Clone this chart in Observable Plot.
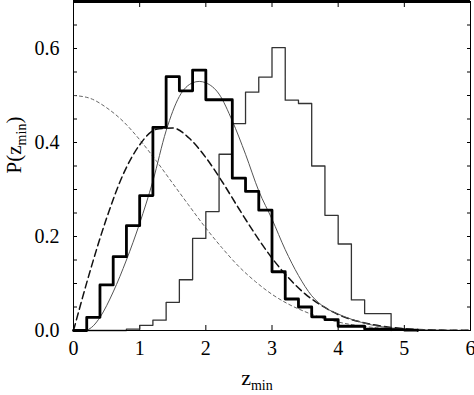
<!DOCTYPE html>
<html><head><meta charset="utf-8">
<script src="https://cdn.jsdelivr.net/npm/d3@7"></script>
<script src="https://cdn.jsdelivr.net/npm/@observablehq/plot@0.6"></script>
<style>body{margin:0;background:#fff} svg{display:block}</style>
</head><body><div id="chart"></div>
<script>
// Histogram (thick): left bin edges and heights (step-after)
const thickEdges = [0,0.2,0.4,0.6,0.8,1.0,1.2,1.4,1.6,1.8,2.0,2.2,2.4,2.6,2.8,3.0,3.2,3.4,3.6,3.8,4.0,4.2,4.4,4.6,4.8,5.0,5.2];
const thickHeights = [0,0.028,0.097,0.157,0.223,0.287,0.432,0.540,0.510,0.554,0.491,0.491,0.324,0.296,0.256,0.125,0.067,0.050,0.029,0.023,0.009,0.009,0.003,0.003,0.002,0.001,0];
// Histogram (thin)
const thinEdges = [0,0.8,1.0,1.2,1.4,1.6,1.8,2.0,2.2,2.4,2.6,2.8,3.0,3.2,3.4,3.6,3.8,4.0,4.2,4.4,4.6,4.8];
const thinHeights = [0,0.003,0.011,0.022,0.060,0.108,0.196,0.253,0.375,0.440,0.507,0.539,0.602,0.490,0.483,0.350,0.245,0.184,0.065,0.036,0.036,0];
// Thin solid curve
const solidZ = [0.2,0.3,0.4,0.6,0.8,1.0,1.2,1.4,1.6,1.8,1.9,2.0,2.2,2.4,2.6,2.8,3.0,3.2,3.4,3.6,3.8,4.0,4.2,4.5,5.0,5.5,6.0];
const solidP = [0,0.010,0.028,0.082,0.150,0.228,0.318,0.425,0.498,0.527,0.530,0.527,0.503,0.446,0.375,0.297,0.237,0.172,0.117,0.074,0.049,0.035,0.024,0.012,0.003,0.0005,0];
// Long-dashed curve
const longZ = [0,0.25,0.5,0.75,1.0,1.25,1.5,1.75,2.0,2.25,2.5,2.75,3.0,3.25,3.5,3.75,4.0,4.5,5.0,5.5,6.0];
const longP = [0,0.126,0.239,0.332,0.395,0.428,0.431,0.409,0.368,0.316,0.259,0.204,0.154,0.112,0.078,0.053,0.034,0.013,0.004,0.001,0.0003];
// Short-dashed curve
const shortZ = [0,0.25,0.5,0.75,1.0,1.25,1.5,1.75,2.0,2.25,2.5,2.75,3.0,3.25,3.5,3.75,4.0,4.5,5.0,5.5,6.0];
const shortP = [0.500,0.494,0.474,0.445,0.406,0.361,0.313,0.265,0.218,0.175,0.136,0.104,0.077,0.056,0.040,0.027,0.018,0.007,0.002,0.0009,0.0003];
// Ticks
const xTicks = [0,1,2,3,4,5,6];
const yLabelTicks = [0,0.2,0.4,0.6];
const yMinorTicks = [0,0.05,0.1,0.15,0.2,0.25,0.3,0.35,0.4,0.45,0.5,0.55,0.6,0.65];

const zip = (a, b) => a.map((v, i) => ({x: v, y: b[i]}));
const thick = zip(thickEdges, thickHeights);
const thin = zip(thinEdges, thinHeights);
const solid = zip(solidZ, solidP);
const longD = zip(longZ, longP);
const shortD = zip(shortZ, shortP);

const serif = "'Liberation Serif', 'Times New Roman', serif";
const plot = Plot.plot({
  width: 474, height: 395,
  marginLeft: 73, marginRight: 4, marginTop: 1, marginBottom: 65,
  x: {domain: [0, 6]},
  y: {domain: [0, 0.7]},
  style: {fontFamily: serif, fontSize: "20px", color: "#000", background: "#fff"},
  marks: [
    Plot.axisX({anchor: "bottom", ticks: xTicks, tickSize: -5, tickPadding: 15, tickFormat: d => String(d), label: null}),
    Plot.axisX({anchor: "top", ticks: xTicks, tickSize: -5, tickFormat: () => "", label: null}),
    Plot.axisY({anchor: "left", ticks: yMinorTicks, tickSize: -4, tickFormat: () => "", label: null}),
    Plot.axisY({anchor: "right", ticks: yMinorTicks, tickSize: -4, tickFormat: () => "", label: null}),
    Plot.axisY({anchor: "left", ticks: yLabelTicks, tickSize: 0, tickPadding: 14, tickFormat: d => d.toFixed(1), label: null}),
    Plot.line(shortD, {x: "x", y: "y", curve: "monotone-x", stroke: "#666", strokeWidth: 1, strokeDasharray: "3,3"}),
    Plot.line(longD, {x: "x", y: "y", curve: "monotone-x", stroke: "#111", strokeWidth: 1.5, strokeDasharray: "7,4"}),
    Plot.line(solid, {x: "x", y: "y", curve: "monotone-x", stroke: "#555", strokeWidth: 1}),
    Plot.line(thin, {x: "x", y: "y", curve: "step-after", stroke: "#333", strokeWidth: 1.3}),
    Plot.line(thick, {x: "x", y: "y", curve: "step-after", stroke: "#000", strokeWidth: 2.8}),
    Plot.frame({stroke: "#000", strokeWidth: 1}),
    Plot.ruleY([0.7], {stroke: "#000", strokeWidth: 3})
  ]
});

const svg = d3.select(plot);
// x-axis label z_min
const xl = svg.append("text").attr("x", 257).attr("y", 385)
  .attr("font-family", serif).attr("font-size", 22).attr("fill", "#000");
xl.append("tspan").text("z");
xl.append("tspan").attr("dy", 5).attr("font-size", 14).text("min");
// y-axis label P(z_min)
const yl = svg.append("text").attr("transform", "translate(21,145) rotate(-90)")
  .attr("text-anchor", "middle")
  .attr("font-family", serif).attr("font-size", 21).attr("fill", "#000");
yl.append("tspan").text("P(z");
yl.append("tspan").attr("dy", 5).attr("font-size", 14).text("min");
yl.append("tspan").attr("dy", -5).text(")");

document.getElementById("chart").appendChild(plot);
</script>
</body></html>
